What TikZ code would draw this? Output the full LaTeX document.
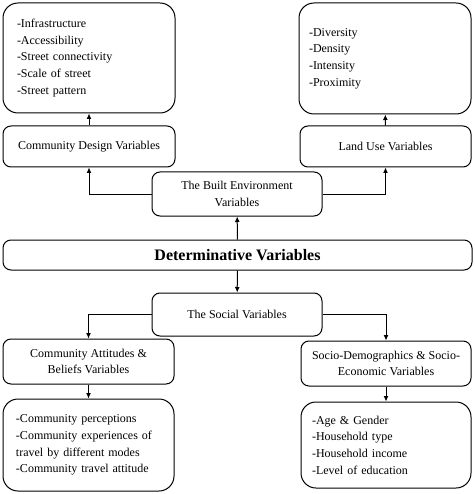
\documentclass[tikz,border=0pt]{standalone}
\usepackage{fontspec}
\setmainfont{Liberation Serif}
\usetikzlibrary{arrows.meta}

\begin{document}
\begin{tikzpicture}[x=1pt,y=-1pt,
  box/.style={draw, line width=1pt, rounded corners=8pt, align=center,
    font=\fontsize{12}{16.7}\selectfont, inner sep=0pt},
  list/.style={box, rounded corners=15pt, align=left},
  arr/.style={line width=1pt, -{Latex[length=5.5pt,width=5pt]}}]
\useasboundingbox (0,0) rectangle (474,494);
\node[list, minimum width=172pt, minimum height=110pt, text width=144pt] (infra) at (89,58) {-Infrastructure\\-Accessibility\\-Street connectivity\\-Scale of street\\-Street pattern};
\node[list, minimum width=172pt, minimum height=111pt, text width=152pt] (mix) at (385,58.5) {-Diversity\\-Density\\-Intensity\\-Proximity};
\node[box, minimum width=172pt, minimum height=41pt] (cdv) at (89,146.5) {Community Design Variables};
\node[box, minimum width=171pt, minimum height=41pt] (land) at (385.5,146.5) {Land Use Variables};
\node[box, minimum width=170pt, minimum height=44pt] (built) at (237,194) {The Built Environment\\Variables};
\node[box, minimum width=469pt, minimum height=30pt, font=\fontsize{16}{18}\selectfont\bfseries] (det) at (237.5,255) {Determinative Variables};
\node[box, minimum width=170pt, minimum height=43pt] (social) at (237,314.5) {The Social Variables};
\node[box, minimum width=171pt, minimum height=45pt] (cab) at (88.5,361.5) {Community Attitudes \&\\Beliefs Variables};
\node[box, minimum width=170pt, minimum height=45pt] (sd) at (386,363.5) {Socio-Demographics \& Socio-\\Economic Variables};
\node[list, minimum width=171pt, minimum height=92pt, text width=145pt] (att) at (88.5,445) {-Community perceptions\\-Community experiences of\\travel by different modes\\-Community travel attitude};
\node[list, minimum width=170pt, minimum height=86pt, text width=148pt] (dem) at (386,445) {-Age \& Gender\\-Household type\\-Household income\\-Level of education};
\path[draw,arr] (det) -- (built);
\path[draw,arr] (built.west) -| (cdv.south);
\path[draw,arr] (built.east) -| (land.south);
\path[draw,arr] (cdv) -- (infra);
\path[draw,arr] (land) -- (mix);
\path[draw,arr] (det) -- (social);
\path[draw,arr] (social.west) -| (cab.north);
\path[draw,arr] (social.east) -| (sd.north);
\path[draw,arr] (cab) -- (att);
\path[draw,arr] (sd) -- (dem);
\end{tikzpicture}
\end{document}
